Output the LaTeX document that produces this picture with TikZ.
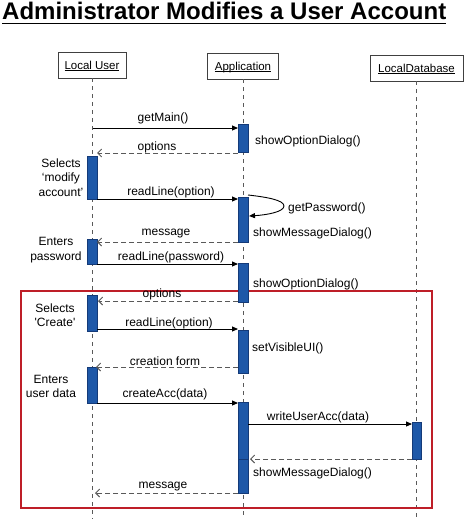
\documentclass[tikz,border=0pt]{standalone}
\usepackage{fontspec}
\setmainfont{Liberation Sans}
\usetikzlibrary{arrows.meta}
\definecolor{actblue}{RGB}{30,88,168}
\definecolor{actedge}{RGB}{20,58,120}
\definecolor{redbox}{RGB}{190,30,40}
\begin{document}
\begin{tikzpicture}[x=1pt,y=-1pt,
  every node/.style={font=\fontsize{12}{14.5}\selectfont, inner sep=0pt},
  lifebox/.style={draw=black!75, line width=0.9pt, minimum height=26pt, text height=8.5pt, text depth=0pt, font=\fontsize{11.5}{13}\selectfont},
  lifeline/.style={draw=black!65, line width=0.8pt, dash pattern=on 4pt off 4pt},
  act/.style={fill=actblue, draw=actedge, line width=0.5pt, minimum width=10pt},
  call/.style={draw=black, line width=0.9pt, -{Triangle[length=6pt,width=5pt]}},
  reply/.style={draw=black!65, line width=0.9pt, dash pattern=on 5pt off 3pt, -{Straight Barb[length=4pt,width=8pt]}},
  msg/.style={anchor=center},
  side/.style={align=center},
  ]
\fill[white] (0,0) rectangle (474,519);
\useasboundingbox (0,0) rectangle (474,519);

% title
\node[anchor=base west, font=\fontsize{24}{28}\selectfont\bfseries] (title) at (2,20) {Administrator Modifies a User Account};
\draw[line width=1.8pt] ([yshift=-3.5pt]title.base west) -- ([yshift=-3.5pt]title.base east);

% lifeline heads
\node[lifebox, minimum width=68pt] (lu) at (92,65) {\underline{\smash{Local User}}};
\node[lifebox, minimum width=71pt] (app) at (243,66) {\underline{\smash{Application}}};
\node[lifebox, minimum width=93pt] (db) at (416.5,68) {\underline{\smash{LocalDatabase}}};

\coordinate (luend) at (92,519);
\coordinate (append) at (243,519);
\coordinate (dbend) at (416.5,519);
\draw[lifeline] (lu.south) -- (luend);
\draw[lifeline] (app.south) -- (append);
\draw[lifeline] (db.south) -- (dbend);

% red frame
\draw[draw=redbox, line width=2pt] (21,291) rectangle (432,508);

% activations: Application
\node[act, minimum height=28pt] (a1) at (243,138) {};
\node[act, minimum height=45pt] (a2) at (243,219.5) {};
\node[act, minimum height=39pt] (a3) at (243,282.5) {};
\node[act, minimum height=43pt] (a4) at (243,351.5) {};
\node[act, minimum height=57pt] (a5) at (243,430.5) {};
\node[act, minimum height=34pt] (a6) at (243,476) {};
% activations: Local User
\node[act, minimum height=43pt] (u1) at (92,177.5) {};
\node[act, minimum height=25pt] (u2) at (92,251.5) {};
\node[act, minimum height=36pt] (u3) at (92,313) {};
\node[act, minimum height=36pt] (u4) at (92,385) {};
% activation: LocalDatabase
\node[act, minimum width=9pt, minimum height=37pt] (d1) at (416.5,440.5) {};

% message end points
\coordinate (m1s) at (93,128);  \coordinate (m1e) at (238,128);
\coordinate (m2s) at (238,153); \coordinate (m2e) at (97,153);
\coordinate (m3s) at (97,199);  \coordinate (m3e) at (238,199);
\coordinate (sc1) at (248,195); \coordinate (sct) at (284,206); \coordinate (sc2) at (249,216);
\coordinate (m5s) at (238,242); \coordinate (m5e) at (97,242);
\coordinate (m6s) at (97,264);  \coordinate (m6e) at (238,264);
\coordinate (m7s) at (238,301); \coordinate (m7e) at (98,301);
\coordinate (m8s) at (97,329);  \coordinate (m8e) at (238,329);
\coordinate (m9s) at (238,367); \coordinate (m9e) at (96,367);
\coordinate (m10s) at (97,403); \coordinate (m10e) at (238,403);
\coordinate (m11s) at (248,424); \coordinate (m11e) at (412,424);
\coordinate (m12s) at (412,459); \coordinate (m12e) at (250,459);
\coordinate (m13s) at (238,493); \coordinate (m13e) at (95,493);

% messages
\draw[call] (m1s) -- (m1e);
\draw[reply] (m2s) -- (m2e);
\draw[call] (m3s) -- (m3e);
\draw[call] (sc1) .. controls (266,197) and (284,200) .. (sct) .. controls (284,212) and (266,215) .. (sc2);
\draw[reply] (m5s) -- (m5e);
\draw[call] (m6s) -- (m6e);
\draw[reply] (m7s) -- (m7e);
\draw[call] (m8s) -- (m8e);
\draw[reply] (m9s) -- (m9e);
\draw[call] (m10s) -- (m10e);
\draw[call] (m11s) -- (m11e);
\draw[reply] (m12s) -- (m12e);
\draw[reply] (m13s) -- (m13e);

% message labels
\node[msg] (l1) at (163,118) {getMain()};
\node[msg] (l2) at (157,147.5) {options};
\node[msg] (l3) at (171,192) {readLine(option)};
\node[anchor=west] (l4) at (288,208) {getPassword()};
\node[msg] (l5) at (166,233.5) {message};
\node[msg] (l6) at (171,257) {readLine(password)};
\node[msg] (l7) at (162,294.5) {options};
\node[msg] (l8) at (169,323.5) {readLine(option)};
\node[msg] (l9) at (165,361) {creation form};
\node[msg] (l10) at (165,394) {createAcc(data)};
\node[msg] (l11) at (318,417) {writeUserAcc(data)};
\node[msg] (l12) at (163,487) {message};

% activation labels
\node[anchor=west] (o1) at (255,141) {showOptionDialog()};
\node[anchor=west] (o2) at (253,233) {showMessageDialog()};
\node[anchor=west] (o3) at (253,284) {showOptionDialog()};
\node[anchor=west] (o4) at (252,348.5) {setVisibleUI()};
\node[anchor=west] (o5) at (253,473.5) {showMessageDialog()};

% user actions
\node[side] (s1) at (61,177.5) {Selects\\‘modify\\account’};
\node[side] (s2) at (56,250) {Enters\\password};
\node[side] (s3) at (55,315) {Selects\\\textquotesingle Create\textquotesingle};
\node[side] (s4) at (51,386.5) {Enters\\user data};
\end{tikzpicture}
\end{document}
